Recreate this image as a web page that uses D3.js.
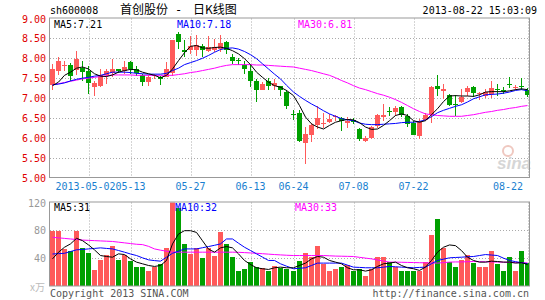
<!DOCTYPE html>
<html><head><meta charset="utf-8">
<script src="https://cdn.jsdelivr.net/npm/d3@7"></script>
<style>body{margin:0;background:#fff}svg text{font-family:"DejaVu Sans Mono",monospace}</style>
</head><body><svg id="c" width="545" height="300"></svg>
<script>
const dates = ["04-19","04-22","04-23","04-24","04-25","04-26","05-02","05-03","05-06","05-07",
"05-08","05-09","05-10","05-13","05-14","05-15","05-16","05-17","05-20","05-21",
"05-22","05-23","05-24","05-27","05-28","05-29","05-30","05-31","06-03","06-04",
"06-05","06-06","06-07","06-13","06-14","06-17","06-18","06-19","06-20","06-21",
"06-24","06-25","06-26","06-27","06-28","07-01","07-02","07-03","07-04","07-05",
"07-08","07-09","07-10","07-11","07-12","07-15","07-16","07-17","07-18","07-19",
"07-22","07-23","07-24","07-25","07-26","07-29","07-30","07-31","08-01","08-02",
"08-05","08-06","08-07","08-08","08-09","08-16","08-19","08-20","08-21","08-22"];
const open  = [7.33,7.69,7.80,7.82,7.71,7.75,7.69,7.28,7.31,7.58, 7.64,7.72,7.68,7.90,7.72,7.57,7.40,7.55,7.52,7.53,
7.63,8.61,8.22,8.20,8.22,8.30,8.19,8.22,8.24,8.42, 8.03,7.95,7.83,7.69,7.42,7.21,7.42,7.31,7.29,7.15,
6.59,6.62,5.86,6.06,6.33,6.37,6.40,6.54,6.50,6.38, 6.45,6.22,5.93,5.99,6.29,6.51,6.67,6.64,6.77,6.54,
6.37,6.04,6.45,6.56,7.31,7.18,7.08,6.85,6.91,7.14, 7.27,7.11,7.06,7.11,7.22,7.21,7.34,7.26,7.31,7.21];
const close = [7.72,7.92,7.84,7.56,7.97,7.65,7.37,7.37,7.59,7.68, 7.74,7.68,7.77,7.73,7.63,7.40,7.52,7.57,7.47,7.72,
8.46,8.42,8.15,8.30,8.34,8.22,8.28,8.28,8.39,8.22, 7.94,7.94,7.72,7.42,7.19,7.36,7.31,7.38,7.19,6.79,
6.58,5.93,6.10,6.31,6.49,6.38,6.48,6.55,6.42,6.41, 6.40,5.98,5.99,6.27,6.56,6.57,6.66,6.74,6.56,6.35,
6.08,6.43,6.58,7.27,7.23,7.23,6.83,6.84,7.02,7.26, 7.12,7.12,7.15,7.24,7.21,7.20,7.33,7.27,7.30,7.08];
const high  = [7.86,8.03,7.94,7.88,8.17,7.94,7.80,7.44,7.72,7.73, 7.98,7.74,7.94,7.92,7.80,7.61,7.57,7.61,7.56,7.91,
8.46,8.66,8.45,8.55,8.58,8.36,8.57,8.49,8.59,8.44, 8.11,8.00,7.94,7.82,7.48,7.39,7.50,7.48,7.31,7.19,
6.71,6.69,6.26,6.38,6.80,6.62,6.60,6.58,6.52,6.52, 6.50,6.25,6.05,6.30,6.60,6.85,6.77,6.79,6.80,6.60,
6.43,6.48,6.63,7.31,7.57,7.36,7.11,7.08,7.23,7.30, 7.30,7.16,7.22,7.44,7.36,7.28,7.52,7.32,7.50,7.25];
const low   = [7.19,7.57,7.69,7.44,7.58,7.44,7.11,7.06,7.27,7.36, 7.54,7.62,7.60,7.61,7.55,7.31,7.31,7.48,7.33,7.52,
7.56,8.23,8.04,8.10,8.05,8.03,8.15,8.15,8.15,8.10, 7.86,7.82,7.61,7.27,6.89,7.19,7.19,7.19,7.06,6.73,
6.45,5.89,5.33,5.89,6.22,6.24,6.36,6.43,6.18,6.25, 6.35,5.93,5.89,5.96,6.25,6.43,6.54,6.55,6.53,6.27,
6.06,5.97,6.43,6.38,7.06,6.98,6.80,6.54,6.88,7.06, 7.03,6.96,7.00,7.00,7.06,7.10,7.24,7.20,7.19,7.02];
const ma5  = [7.31,7.40,7.57,7.65,7.75,7.78,7.73,7.61,7.55,7.54, 7.58,7.65,7.69,7.72,7.71,7.65,7.61,7.57,7.51,7.57,
7.73,7.94,8.14,8.30,8.32,8.26,8.25,8.27,8.28,8.25, 8.19,8.11,7.99,7.84,7.65,7.52,7.40,7.31,7.27,7.19,
7.06,6.81,6.52,6.35,6.27,6.22,6.31,6.39,6.43,6.46, 6.45,6.38,6.27,6.21,6.22,6.31,6.43,6.56,6.60,6.56,
6.43,6.39,6.43,6.58,6.73,6.91,7.05,7.06,7.05,7.05, 7.04,7.08,7.15,7.16,7.16,7.16,7.18,7.21,7.23,7.21];
const ma10 = [7.33,7.35,7.38,7.43,7.47,7.50,7.52,7.55,7.57,7.61, 7.65,7.65,7.65,7.64,7.62,7.61,7.60,7.60,7.60,7.62,
7.69,7.75,7.84,7.89,7.94,8.00,8.07,8.15,8.22,8.25, 8.26,8.23,8.17,8.09,7.99,7.86,7.73,7.60,7.48,7.32,
7.15,7.04,6.94,6.85,6.77,6.68,6.60,6.54,6.48,6.45, 6.43,6.37,6.34,6.33,6.33,6.34,6.35,6.36,6.38,6.39,
6.39,6.41,6.45,6.53,6.63,6.69,6.74,6.79,6.83,6.90, 6.98,7.03,7.08,7.09,7.10,7.12,7.15,7.19,7.21,7.18];
const ma30 = [7.33,7.36,7.39,7.42,7.45,7.48,7.50,7.52,7.54,7.56, 7.58,7.58,7.58,7.58,7.57,7.57,7.57,7.57,7.57,7.57,
7.57,7.59,7.61,7.64,7.66,7.69,7.72,7.75,7.79,7.82, 7.84,7.84,7.84,7.84,7.83,7.83,7.82,7.81,7.80,7.79,
7.78,7.75,7.72,7.69,7.65,7.61,7.57,7.51,7.44,7.38, 7.31,7.25,7.21,7.16,7.11,7.07,7.02,6.96,6.89,6.81,
6.73,6.66,6.60,6.58,6.56,6.55,6.54,6.54,6.54,6.56, 6.58,6.61,6.64,6.66,6.69,6.71,6.74,6.76,6.79,6.81];
const volume = [79,79,53,51,79,54,48,23,38,44, 58,37,45,36,28,27,22,28,32,55,
125,112,60,46,55,40,55,43,77,60, 41,22,24,34,27,26,22,29,26,25,
22,36,47,41,58,31,21,25,28,30, 22,25,14,25,41,42,34,27,22,22,
21,21,34,74,97,55,35,28,37,45, 33,28,28,51,31,22,41,21,50,33];
const vma5 = [39,48.6,55.7,60.5,68.5,65.2,59,51.9,43.8,42.4, 41.4,46.2,45.2,39,34.3,31.9,29.5,28.1,29.5,36.7,
60.5,74.7,79.5,79.5,77,65,53,48.6,54.8,56.7, 54.8,46.2,36.7,30.9,26.2,24.8,23.8,26.2,27.1,26.2,
26.2,29.5,32.9,39,42.4,41.4,36.7,34.3,31.9,26.2, 23.3,23.3,21.4,23.3,28.1,31.9,32.9,34.3,29.5,26.2,
24.8,22.4,27.1,36.7,48.6,55.7,59,58,50.9,41.4, 36.7,34.3,34.3,35.7,35.2,34.3,34.3,32.9,33.5,31];
const vma10 = [46,46.5,47,49.5,52,52.5,53.3,54,54.8,54, 53.3,51,48.6,46,43.8,40.5,37.6,36.5,35.7,41.4,
47,50,53.3,53.3,53.3,55,56.7,58.5,60.5,67.6, 67.6,61.5,55.7,51,46.2,41.5,36.7,36.7,31.9,28.5,
24.8,25.5,26.2,29.5,32.9,32.9,32.9,32.9,32.9,30, 27.1,26.7,26.2,26.2,26.2,27.1,28.1,27.6,27.1,26.7,
26.2,26.7,27.1,32,36.7,38.6,40.5,41,41.4,42, 42.4,43.8,45.2,44.5,43.8,40,36.7,35,33.5,32];
const vma30 = [70,69.2,68.4,67.6,66.8,66,65.6,65.2,64.8,64.4, 64,63,62,61,60,59.5,57,53.3,51.5,50,
48.6,48.6,48.6,48.6,48.6,48.6,48.6,48.6,48.6,48.6, 48.6,48.4,48,47.5,47,46.4,45.8,45.2,44.7,44.2,
43.8,43.8,43.8,43.8,43.8,43.8,43.4,43,42.8,42.6, 42.4,41.2,40.1,39,37.4,35.8,34.3,34.3,34.1,33.9,
33.7,33.5,33.3,33.1,32.9,33.6,34.3,34.6,34.6,34.9, 35.2,35,34.8,34.6,34.4,34.3,34,33.8,33.5,33.3];
const priceTicks = [5,5.5,6,6.5,7,7.5,8,8.5,9];
const volTicks = [40,80,120];
const tickDates = ["05-02","05-13","05-27","06-13","06-24","07-08","07-22","08-22"];
const tickLabels = ["2013-05-02","05-13","05-27","06-13","06-24","07-08","07-22","08-22"];

const svg = d3.select("#c");
const L = 50, R = 530, PT = 18.5, PB = 177.5, VT = 202.5, VB = 286;
const UP = "#ff5a5a", DN = "#00a000";
const x = d3.scaleBand().domain(dates).range([L, R]).paddingInner(1/6).paddingOuter(0);
const bw = 5;
const xl = d => Math.round(x(d));
const xc = d => xl(d) + 2.5;
const y = d3.scaleLinear().domain([5, 9]).range([PB, PT]);
const yv = d3.scaleLinear().domain([0, 120]).range([VB, VT]);

svg.append("defs").append("clipPath").attr("id","vclip").append("rect")
  .attr("x", L).attr("y", VT).attr("width", R - L).attr("height", VB - VT);
svg.append("defs").append("clipPath").attr("id","pclip").append("rect")
  .attr("x", L).attr("y", PT).attr("width", R - L - 1).attr("height", PB - PT);

const grid = "#aaa";
svg.append("g").selectAll("line").data(priceTicks.slice(1, -1)).join("line")
  .attr("x1", L).attr("x2", R).attr("y1", d => Math.round(y(d)) + 0.5).attr("y2", d => Math.round(y(d)) + 0.5)
  .attr("stroke", grid).attr("stroke-dasharray", "1,2");
svg.append("g").selectAll("line").data(volTicks.slice(0, -1)).join("line")
  .attr("x1", L).attr("x2", R).attr("y1", d => Math.round(yv(d)) + 0.5).attr("y2", d => Math.round(yv(d)) + 0.5)
  .attr("stroke", grid).attr("stroke-dasharray", "1,2");
const vx = d => xl(d) + 3.5;
svg.append("g").selectAll("line").data(tickDates).join("line")
  .attr("x1", vx).attr("x2", vx).attr("y1", PT).attr("y2", PB)
  .attr("stroke", grid).attr("stroke-dasharray", "1,2");
svg.append("g").selectAll("line").data(tickDates).join("line")
  .attr("x1", vx).attr("x2", vx).attr("y1", VT).attr("y2", VB)
  .attr("stroke", grid).attr("stroke-dasharray", "1,2");

// watermark
svg.append("circle").attr("cx", 508).attr("cy", 151).attr("r", 5).attr("fill", "none").attr("stroke", "#efc8c0").attr("stroke-width", 2);
svg.append("text").attr("x", 497).attr("y", 169)
  .style("font-family","Liberation Sans, sans-serif").attr("font-style", "italic").attr("font-weight", "bold")
  .attr("font-size", 17).attr("fill", "#d6d6d6").text("sina");

// candles
const idx = d3.range(dates.length);
const cg = svg.append("g").attr("clip-path", "url(#pclip)");
cg.selectAll("line.w").data(idx).join("line").attr("class","w")
  .attr("x1", i => xc(dates[i])).attr("x2", i => xc(dates[i]))
  .attr("y1", i => Math.round(y(high[i]))).attr("y2", i => Math.round(y(low[i])))
  .attr("stroke", i => close[i] > open[i] ? UP : DN);
cg.selectAll("rect").data(idx).join("rect")
  .attr("x", i => xl(dates[i])).attr("width", bw)
  .attr("y", i => Math.round(y(Math.max(open[i], close[i]))))
  .attr("height", i => Math.max(1, Math.round(y(Math.min(open[i], close[i]))) - Math.round(y(Math.max(open[i], close[i])))))
  .attr("fill", i => close[i] > open[i] ? UP : DN);

const line = (arr, sc) => d3.line().x((d, i) => xc(dates[i])).y(d => sc(d))(arr);
[[ma30, "#ff00ff"], [ma10, "#0000ff"], [ma5, "#000"]].forEach(([a, c]) =>
  cg.append("path").attr("d", line(a, y)).attr("fill", "none").attr("stroke", c).attr("stroke-width", 1));

// volume
const vg = svg.append("g").attr("clip-path", "url(#vclip)");
vg.selectAll("rect").data(idx).join("rect")
  .attr("x", i => xl(dates[i])).attr("width", bw)
  .attr("y", i => Math.round(yv(volume[i]))).attr("height", i => VB - Math.round(yv(volume[i])))
  .attr("fill", i => close[i] > open[i] ? UP : DN);
[[vma30, "#ff00ff"], [vma10, "#0000ff"], [vma5, "#000"]].forEach(([a, c]) =>
  vg.append("path").attr("d", line(a, yv)).attr("fill", "none").attr("stroke", c).attr("stroke-width", 1));

// frames
svg.append("rect").attr("x", L - 0.5).attr("y", PT - 0.5).attr("width", R - L).attr("height", PB - PT + 0.5)
  .attr("fill", "none").attr("stroke", "#999");
svg.append("rect").attr("x", L - 0.5).attr("y", VT - 0.5).attr("width", R - L).attr("height", VB - VT + 0.5)
  .attr("fill", "none").attr("stroke", "#999");

// y labels
svg.append("g").selectAll("text").data(priceTicks).join("text")
  .attr("x", 46).attr("y", d => y(d) + 4).attr("text-anchor", "end")
  .attr("font-size", 10).attr("fill", "#e00000").text(d => d.toFixed(2));
svg.append("g").selectAll("text").data(volTicks).join("text")
  .attr("x", 46).attr("y", d => yv(d) + 4).attr("text-anchor", "end")
  .attr("font-size", 10).attr("fill", "#999").text(d => d);
svg.append("text").attr("x", 30).attr("y", 291).attr("font-size", 10).attr("fill", "#bbb")
  .style("font-family", "Noto Sans CJK SC").text("x万");

// x labels (first one nudged left so it abuts the next label)
const lblX = (d, i) => i === 0 ? xc(d) - 3 : Math.min(xc(d), 508);
svg.append("g").selectAll("text").data(tickDates).join("text")
  .attr("x", (d, i) => lblX(d, i)).attr("y", 190).attr("text-anchor", "middle")
  .attr("font-size", 10).attr("fill", "#1a7fd0").text((d, i) => tickLabels[i]);

// MA legends
const lg = (t, xx, yy, c) => svg.append("text").attr("x", xx).attr("y", yy).attr("font-size", 10).attr("fill", c).text(t);
const n = dates.length - 1;
lg("MA5:" + ma5[n].toFixed(2), 54, 28, "#000");
lg("MA10:" + ma10[n].toFixed(2), 177, 28, "#0000ff");
lg("MA30:" + ma30[n].toFixed(2), 298, 28, "#ff00ff");
lg("MA5:" + Math.round(vma5[n]), 54, 211, "#000");
lg("MA10:" + Math.round(vma10[n]), 175, 211, "#0000ff");
lg("MA30:" + Math.round(vma30[n]), 295, 211, "#ff00ff");

// header
svg.append("text").attr("x", 50).attr("y", 14).attr("font-size", 10).attr("fill", "#000").text("sh600008");
svg.append("text").attr("x", 120).attr("y", 14).attr("font-size", 12).style("font-family", "Noto Sans CJK SC").attr("fill", "#000").text("首创股份");
svg.append("text").attr("x", 175).attr("y", 14).attr("font-size", 12).attr("fill", "#000").text("-");
svg.append("text").attr("x", 193).attr("y", 14).attr("font-size", 12).style("font-family", "Noto Sans CJK SC").attr("fill", "#000").text("日K线图");
svg.append("text").attr("x", 537).attr("y", 14).attr("text-anchor", "end").attr("font-size", 10).attr("fill", "#000").text("2013-08-22 15:03:09");

// footer
svg.append("text").attr("x", 50).attr("y", 297).attr("font-size", 10).attr("fill", "#555").text("Copyright 2013 SINA.COM");
svg.append("text").attr("x", 529).attr("y", 297).attr("text-anchor", "end").attr("font-size", 10).attr("fill", "#555").text("http://finance.sina.com.cn");
</script></body></html>
